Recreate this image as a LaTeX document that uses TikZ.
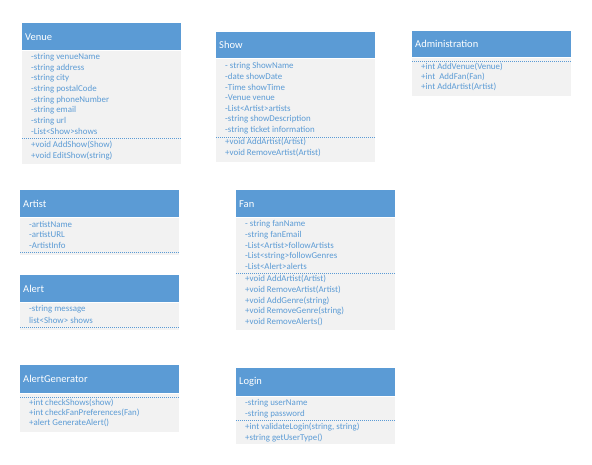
\documentclass[tikz,border=0pt]{standalone}
\usepackage{fontspec}
\setmainfont{Carlito}
\definecolor{hblue}{HTML}{5B9BD5}
\definecolor{bgray}{HTML}{F2F2F2}
\definecolor{tblue}{HTML}{5B9BD5}
\newcommand\umllines[5]{% name, x, y0, step, list
  \foreach \t [count=\i] in {#5} {
    \node[umlline] (#1-\i) at (#2, {#3+(\i-1)*#4}) {\t};
  }}
\begin{document}
\begin{tikzpicture}[x=1pt,y=-1pt,
  umlhead/.style={fill=hblue, draw=none, anchor=north west, text width=153pt, inner xsep=3pt, inner ysep=0pt,
    align=left, text=white, font=\fontsize{10.5}{12}\selectfont},
  umlbody/.style={fill=bgray, draw=none, anchor=north west, minimum width=159pt, inner sep=0pt},
  umlline/.style={anchor=west, inner sep=0pt, text=tblue, font=\fontsize{8.9}{10.5}\selectfont},
  umlsep/.style={draw=tblue, line width=0.7pt, dash pattern=on 1pt off 1pt}]
\useasboundingbox (0,0) rectangle (592,465);

% Venue
\node[umlhead, minimum height=27pt] (venue) at (22,23) {Venue};
\node[umlbody, minimum height=113pt] (venueb) at (venue.south west) {};
\draw[umlsep] (venueb.west |- 0,138) -- (venueb.east |- 0,138);
\umllines{va}{31}{57.3}{10.6}{-string venueName,-string address,-string city,-string postalCode,-string phoneNumber,-string email,-string url,-List<Show>shows}
\umllines{vm}{31}{145}{10.7}{+void AddShow(Show),+void EditShow(string)}

% Show
\node[umlhead, minimum height=26pt] (show) at (216,32) {Show};
\node[umlbody, minimum height=103pt] (showb) at (show.south west) {};
\draw[umlsep] (showb.west |- 0,137) -- (showb.east |- 0,137);
\umllines{sa}{225}{65.7}{10.7}{- string ShowName,-date showDate,-Time showTime,-Venue venue,-List<Artist>artists,-string showDescription,-string ticket information}
\umllines{sm}{225}{141.7}{11}{+void AddArtist(Artist),+void RemoveArtist(Artist)}

% Administration
\node[umlhead, minimum height=26pt] (admin) at (412,31) {Administration};
\node[umlbody, minimum height=38pt] (adminb) at (admin.south west) {};
\draw[umlsep] (adminb.west |- 0,61) -- (adminb.east |- 0,61);
\umllines{am}{421}{67.3}{10}{+int AddVenue(Venue),+int\ \ AddFan(Fan),+int AddArtist(Artist)}

% Artist
\node[umlhead, minimum height=27pt] (artist) at (20,190) {Artist};
\node[umlbody, minimum height=37pt] (artistb) at (artist.south west) {};
\draw[umlsep] (artistb.west |- 0,252) -- (artistb.east |- 0,252);
\umllines{ra}{29}{224.3}{10.5}{-artistName,-artistURL,-ArtistInfo}

% Alert
\node[umlhead, minimum height=27pt] (alert) at (20,275) {Alert};
\node[umlbody, minimum height=27pt] (alertb) at (alert.south west) {};
\draw[umlsep] (alertb.west |- 0,327) -- (alertb.east |- 0,327);
\umllines{la}{29}{309.3}{10.7}{-string message,list<Show> shows}

% Fan
\node[umlhead, minimum height=27pt] (fan) at (236,190) {Fan};
\node[umlbody, minimum height=112pt] (fanb) at (fan.south west) {};
\draw[umlsep] (fanb.west |- 0,273) -- (fanb.east |- 0,273);
\umllines{fa}{245}{224.3}{10.6}{- string fanName,-string fanEmail,-List<Artist>followArtists,-List<string>followGenres,-List<Alert>alerts}
\umllines{fm}{245}{279}{10.8}{+void AddArtist(Artist),+void RemoveArtist(Artist),+void AddGenre(string),+void RemoveGenre(string),+void RemoveAlerts()}

% AlertGenerator
\node[umlhead, minimum height=28pt] (agen) at (20,365) {AlertGenerator};
\node[umlbody, minimum height=38pt] (agenb) at (agen.south west) {};
\draw[umlsep] (agenb.west |- 0,397) -- (agenb.east |- 0,397);
\umllines{gm}{29}{403.3}{10}{+int checkShows(show),+int checkFanPreferences(Fan),+alert GenerateAlert()}

% Login
\node[umlhead, minimum height=28pt] (login) at (236,368) {Login};
\node[umlbody, minimum height=47pt] (loginb) at (login.south west) {};
\draw[umlsep] (loginb.west |- 0,420) -- (loginb.east |- 0,420);
\umllines{na}{245}{403.3}{10.7}{-string userName,-string password}
\umllines{nm}{245}{426.7}{11}{{+int validateLogin(string, string)},+string getUserType()}
\end{tikzpicture}
\end{document}
